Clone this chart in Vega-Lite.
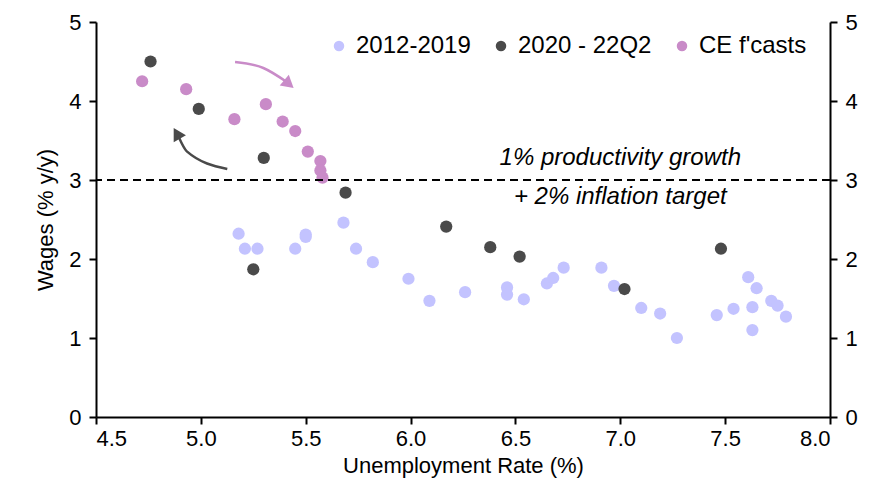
{
  "$schema": "https://vega.github.io/schema/vega-lite/v6.json",
  "width": 734,
  "height": 395,
  "autosize": {"type": "none"},
  "padding": {"left": 96, "top": 22, "right": 57, "bottom": 83},
  "config": {
    "view": {"stroke": null},
    "font": "Liberation Sans",
    "axis": {
      "grid": false,
      "domainColor": "black",
      "domainWidth": 2,
      "tickColor": "black",
      "tickWidth": 2,
      "tickSize": 7,
      "labelFontSize": 22,
      "labelColor": "black",
      "titleFontSize": 22,
      "titleFontWeight": "normal",
      "titleColor": "black"
    }
  },
  "datasets": {
    "points": [
      {"series": "2012-2019", "unemployment": 5.18, "wages": 2.32},
      {"series": "2012-2019", "unemployment": 5.21, "wages": 2.13},
      {"series": "2012-2019", "unemployment": 5.27, "wages": 2.13},
      {"series": "2012-2019", "unemployment": 5.45, "wages": 2.13},
      {"series": "2012-2019", "unemployment": 5.50, "wages": 2.31},
      {"series": "2012-2019", "unemployment": 5.50, "wages": 2.28},
      {"series": "2012-2019", "unemployment": 5.68, "wages": 2.46},
      {"series": "2012-2019", "unemployment": 5.74, "wages": 2.13},
      {"series": "2012-2019", "unemployment": 5.82, "wages": 1.96},
      {"series": "2012-2019", "unemployment": 5.99, "wages": 1.75},
      {"series": "2012-2019", "unemployment": 6.09, "wages": 1.47},
      {"series": "2012-2019", "unemployment": 6.26, "wages": 1.58},
      {"series": "2012-2019", "unemployment": 6.46, "wages": 1.64},
      {"series": "2012-2019", "unemployment": 6.46, "wages": 1.55},
      {"series": "2012-2019", "unemployment": 6.54, "wages": 1.49},
      {"series": "2012-2019", "unemployment": 6.65, "wages": 1.69},
      {"series": "2012-2019", "unemployment": 6.68, "wages": 1.76},
      {"series": "2012-2019", "unemployment": 6.73, "wages": 1.89},
      {"series": "2012-2019", "unemployment": 6.91, "wages": 1.89},
      {"series": "2012-2019", "unemployment": 6.97, "wages": 1.66},
      {"series": "2012-2019", "unemployment": 7.10, "wages": 1.38},
      {"series": "2012-2019", "unemployment": 7.19, "wages": 1.31},
      {"series": "2012-2019", "unemployment": 7.27, "wages": 1.00},
      {"series": "2012-2019", "unemployment": 7.46, "wages": 1.29},
      {"series": "2012-2019", "unemployment": 7.54, "wages": 1.37},
      {"series": "2012-2019", "unemployment": 7.61, "wages": 1.77},
      {"series": "2012-2019", "unemployment": 7.65, "wages": 1.63},
      {"series": "2012-2019", "unemployment": 7.63, "wages": 1.39},
      {"series": "2012-2019", "unemployment": 7.63, "wages": 1.10},
      {"series": "2012-2019", "unemployment": 7.72, "wages": 1.47},
      {"series": "2012-2019", "unemployment": 7.75, "wages": 1.41},
      {"series": "2012-2019", "unemployment": 7.79, "wages": 1.27},
      {"series": "2020 - 22Q2", "unemployment": 4.76, "wages": 4.50},
      {"series": "2020 - 22Q2", "unemployment": 4.99, "wages": 3.90},
      {"series": "2020 - 22Q2", "unemployment": 5.30, "wages": 3.28},
      {"series": "2020 - 22Q2", "unemployment": 5.69, "wages": 2.84},
      {"series": "2020 - 22Q2", "unemployment": 5.25, "wages": 1.87},
      {"series": "2020 - 22Q2", "unemployment": 6.17, "wages": 2.41},
      {"series": "2020 - 22Q2", "unemployment": 6.38, "wages": 2.15},
      {"series": "2020 - 22Q2", "unemployment": 6.52, "wages": 2.03},
      {"series": "2020 - 22Q2", "unemployment": 7.02, "wages": 1.62},
      {"series": "2020 - 22Q2", "unemployment": 7.48, "wages": 2.13},
      {"series": "CE f'casts", "unemployment": 4.72, "wages": 4.25},
      {"series": "CE f'casts", "unemployment": 4.93, "wages": 4.15},
      {"series": "CE f'casts", "unemployment": 5.16, "wages": 3.77},
      {"series": "CE f'casts", "unemployment": 5.31, "wages": 3.96},
      {"series": "CE f'casts", "unemployment": 5.39, "wages": 3.74},
      {"series": "CE f'casts", "unemployment": 5.45, "wages": 3.62},
      {"series": "CE f'casts", "unemployment": 5.51, "wages": 3.36},
      {"series": "CE f'casts", "unemployment": 5.57, "wages": 3.24},
      {"series": "CE f'casts", "unemployment": 5.57, "wages": 3.12},
      {"series": "CE f'casts", "unemployment": 5.58, "wages": 3.03}
    ],
    "arrows": [
      {"arrow": "forecast", "unemployment": 5.163, "wages": 4.494},
      {"arrow": "forecast", "unemployment": 5.298, "wages": 4.418},
      {"arrow": "forecast", "unemployment": 5.41, "wages": 4.24},
      {"arrow": "history", "unemployment": 5.126, "wages": 3.139},
      {"arrow": "history", "unemployment": 4.933, "wages": 3.362},
      {"arrow": "history", "unemployment": 4.895, "wages": 3.54}
    ],
    "heads": [
      {"arrow": "forecast", "unemployment": 5.42, "wages": 4.215},
      {"arrow": "history", "unemployment": 4.885, "wages": 3.59}
    ],
    "notes": [
      {"label": "1% productivity growth", "unemployment": 7.0, "wages": 3.28},
      {"label": "+ 2% inflation target", "unemployment": 7.0, "wages": 2.79}
    ]
  },
  "resolve": {"axis": {"y": "independent"}},
  "layer": [
    {
      "data": {"name": "points"},
      "mark": {"type": "circle", "size": 150, "opacity": 1},
      "encoding": {
        "x": {
          "field": "unemployment",
          "type": "quantitative",
          "scale": {"domain": [4.5, 8], "nice": false, "zero": false},
          "axis": {"title": "Unemployment Rate (%)", "values": [4.5, 5, 5.5, 6, 6.5, 7, 7.5, 8], "format": ".1f", "labelPadding": 4, "titlePadding": 6}
        },
        "y": {
          "field": "wages",
          "type": "quantitative",
          "scale": {"domain": [0, 5], "nice": false},
          "axis": {"title": "Wages (% y/y)", "values": [0, 1, 2, 3, 4, 5], "labelPadding": 8, "titlePadding": 11}
        },
        "color": {
          "field": "series",
          "type": "nominal",
          "scale": {"domain": ["2012-2019", "2020 - 22Q2", "CE f'casts"], "range": ["#C3C3FF", "#4A4A4A", "#C98BC8"]},
          "legend": {
            "title": null,
            "orient": "none",
            "legendX": 231,
            "legendY": 12,
            "direction": "horizontal",
            "labelFontSize": 24,
            "labelColor": "black",
            "symbolType": "circle",
            "symbolSize": 110,
            "columnPadding": 18,
            "labelOffset": 5
          }
        }
      }
    },
    {
      "data": {"values": [{"level": 3}]},
      "mark": {"type": "rule", "color": "black", "strokeWidth": 2, "strokeDash": [8, 5]},
      "encoding": {
        "y": {
          "field": "level",
          "type": "quantitative",
          "axis": {"orient": "right", "title": null, "values": [0, 1, 2, 3, 4, 5], "labelPadding": 8}
        }
      }
    },
    {
      "data": {"name": "notes"},
      "mark": {"type": "text", "fontSize": 24, "fontStyle": "italic", "align": "center", "baseline": "middle", "color": "black"},
      "encoding": {
        "x": {"field": "unemployment", "type": "quantitative"},
        "y": {"field": "wages", "type": "quantitative", "axis": null},
        "text": {"field": "label"}
      }
    },
    {
      "data": {"name": "arrows"},
      "mark": {"type": "line", "interpolate": "monotone", "strokeWidth": 2.5},
      "encoding": {
        "x": {"field": "unemployment", "type": "quantitative"},
        "y": {"field": "wages", "type": "quantitative", "axis": null},
        "detail": {"field": "arrow"},
        "color": {"condition": {"test": "datum.arrow === 'forecast'", "value": "#C98BC8"}, "value": "#4A4A4A"}
      }
    },
    {
      "data": {"name": "heads"},
      "mark": {"type": "point", "shape": "triangle-up", "filled": true, "size": 200, "opacity": 1},
      "encoding": {
        "x": {"field": "unemployment", "type": "quantitative"},
        "y": {"field": "wages", "type": "quantitative", "axis": null},
        "color": {"condition": {"test": "datum.arrow === 'forecast'", "value": "#C98BC8"}, "value": "#4A4A4A"},
        "angle": {"condition": {"test": "datum.arrow === 'forecast'", "value": 130}, "value": -30}
      }
    }
  ]
}
